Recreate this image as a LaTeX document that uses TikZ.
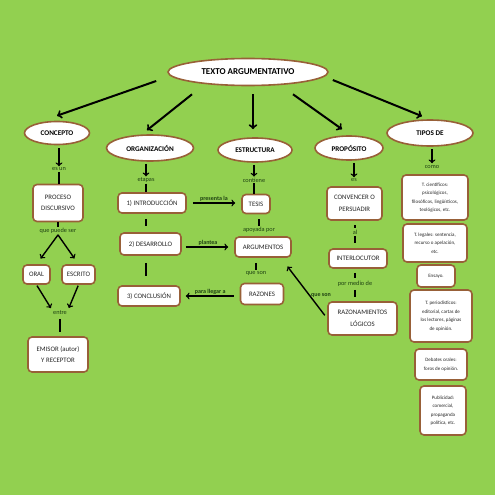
\documentclass[tikz,border=0pt]{standalone}
\usepackage{fontspec}
\setmainfont{Carlito}
\usetikzlibrary{shapes.geometric,calc}

\definecolor{fondo}{RGB}{146,208,80}
\definecolor{borde}{RGB}{152,96,56}
\definecolor{etiq}{RGB}{30,66,18}

\begin{document}
\begin{tikzpicture}[x=1pt, y=-1pt,
  elipse/.style={ellipse, draw=borde, line width=1.6pt, fill=white, inner sep=0pt,
    font=\bfseries\fontsize{7.2}{8}\selectfont},
  caja/.style 2 args={draw=borde, line width=1.6pt, fill=white, rounded corners=4pt,
    inner sep=0pt, align=center, minimum width=#1, minimum height=#2,
    text=black!85, font=\fontsize{6.8}{11.5}\selectfont},
  cajita/.style 2 args={caja={#1}{#2}, font=\fontsize{5}{8.5}\selectfont},
  etiqueta/.style={inner sep=1pt, text=etiq, font=\fontsize{6.3}{7}\selectfont},
  enlace/.style={inner sep=0.8pt, text=etiq, font=\bfseries\fontsize{6}{7}\selectfont},
  flecha/.style={->, line width=2pt},
  flechita/.style={->, line width=1.4pt},
  linea/.style={line width=1.3pt}]

  % fondo
  \useasboundingbox (0,0) rectangle (495,495);
  \fill[fondo] (0,0) rectangle (495,495);

  % titulo y apartados
  \node[elipse, minimum width=160, minimum height=27,
    font=\bfseries\fontsize{9}{10}\selectfont] (titulo) at (248,72) {TEXTO ARGUMENTATIVO};
  \node[elipse, minimum width=65, minimum height=23] (concepto) at (57,133) {CONCEPTO};
  \node[elipse, minimum width=87, minimum height=26] (organizacion) at (150,148) {ORGANIZACIÓN};
  \node[elipse, minimum width=74, minimum height=24] (estructura) at (255,150) {ESTRUCTURA};
  \node[elipse, minimum width=68, minimum height=24] (proposito) at (349,148) {PROPÓSITO};
  \node[elipse, minimum width=86, minimum height=26] (tipos) at (430,133) {TIPOS DE};

  \draw[flecha] ($(titulo.west)+(-11,9)$) -- ($(concepto.north)+(0,-5)$);
  \draw[flecha] ($(titulo.south)+(-56,8)$) -- ($(organizacion.north)+(-3,-4)$);
  \draw[flecha] ($(titulo.south)+(5,8)$) -- ($(estructura.north)+(-2,-8)$);
  \draw[flecha] ($(titulo.south)+(45,8)$) -- ($(proposito.north)+(-7,-6)$);
  \draw[flecha] ($(titulo.east)+(4,8)$) -- ($(tipos.north)+(-8,-3)$);

  % concepto
  \node[etiqueta] (esun) at (59,169) {es un};
  \node[caja={50}{37}] (proceso) at (58,203) {PROCESO\\DISCURSIVO};
  \node[etiqueta] (puede) at (58,231) {que puede ser};
  \node[caja={27}{19}] (oral) at (36.5,274.5) {ORAL};
  \node[caja={33}{19}] (escrito) at (78.5,274.5) {ESCRITO};
  \node[etiqueta] (entre) at (60,313) {entre};
  \node[caja={60}{35}] (emisor) at (58,354.5) {EMISOR (autor)\\Y RECEPTOR};

  \draw[flechita, shorten <=3pt] (esun.north |- concepto.south) -- (esun.north);
  \draw[linea] (esun) -- (esun |- proceso.north);
  \draw[linea] (proceso) -- (puede);
  \draw[flechita, shorten >=7pt] (puede.south) -- (oral.north);
  \draw[flechita, shorten >=7pt] (puede.south) -- (escrito.north);
  \draw[flechita, shorten <=1pt, shorten >=2pt] (oral.south) -- (entre.north west);
  \draw[flechita, shorten <=1pt, shorten >=2pt] (escrito.south) -- (entre.north east);
  \draw[linea, shorten <=3pt, shorten >=4pt] (entre) -- (entre |- emisor.north);

  % organizacion
  \node[etiqueta] (etapas) at (146,180) {etapas};
  \node[caja={68}{20}] (intro) at (152,203) {1) INTRODUCCIÓN};
  \node[caja={61}{22}] (desarrollo) at (150.5,244) {2) DESARROLLO};
  \node[caja={62}{20}] (conclusion) at (149,296) {3) CONCLUSIÓN};

  \draw[flechita, shorten <=2pt] (etapas.north |- organizacion.south) -- (etapas.north);
  \draw[linea] (etapas) -- (etapas |- intro.north);
  \draw[linea, shorten <=5pt, shorten >=6pt] (etapas |- intro.south) -- (etapas |- desarrollo.north);
  \draw[linea, shorten <=7pt, shorten >=9pt] (etapas |- desarrollo.south) -- (etapas |- conclusion.north);

  % estructura
  \node[etiqueta] (contiene) at (254,180) {contiene};
  \node[caja={28}{19}] (tesis) at (256,204) {TESIS};
  \node[etiqueta] (apoyada) at (259,230) {apoyada por};
  \node[caja={56}{20}] (argumentos) at (263,247) {ARGUMENTOS};
  \node[etiqueta] (queson) at (256,273) {que son};
  \node[caja={43}{21}] (razones) at (262,294) {RAZONES};

  \draw[flechita, shorten <=2pt] (contiene.north |- estructura.south) -- (contiene.north);
  \draw[linea] (contiene) -- (contiene |- tesis.north);
  \draw[linea, shorten <=5pt] (apoyada |- tesis.south) -- (apoyada.north);
  \draw[linea, shorten <=5pt] (queson |- argumentos.south) -- (queson.north);

  \draw[flechita, shorten <=6pt, shorten >=6pt] (intro.east) -- (intro.east -| tesis.west)
    node[enlace, midway, above] {presenta la};
  \draw[flechita, shorten <=4pt, shorten >=6pt] (desarrollo.east |- argumentos.west) -- (argumentos.west)
    node[enlace, midway, above] {plantea};
  \draw[flechita, shorten <=6pt, shorten >=5pt] (razones.west |- conclusion.east) -- (conclusion.east)
    node[enlace, midway, above] {para llegar a};

  % proposito
  \node[etiqueta] (es) at (354,180) {es};
  \node[caja={55}{33}] (convencer) at (354.5,203.5) {CONVENCER O\\PERSUADIR};
  \node[etiqueta] (al) at (355,232) {al};
  \node[caja={58}{19}] (interlocutor) at (358,258.5) {INTERLOCUTOR};
  \node[etiqueta] (pormedio) at (355,284) {por medio de};
  \node[caja={69}{33}] (razonamientos) at (362.5,318.5) {RAZONAMIENTOS\\LÓGICOS};

  \draw[flechita, shorten <=2pt] (es.north |- proposito.south) -- (es.north);
  \draw[linea, shorten <=4pt, shorten >=1pt] (al |- convencer.south) -- (al.north);
  \draw[linea, shorten <=1pt, shorten >=5pt] (al.south) -- (al |- interlocutor.north);
  \draw[linea, shorten <=4pt, shorten >=2pt] (pormedio |- interlocutor.south) -- (pormedio.north);
  \draw[linea, shorten <=2pt, shorten >=4pt] (pormedio.south) -- (pormedio |- razonamientos.north);

  \draw[flechita, shorten <=4pt, shorten >=11pt] (razonamientos.west) -- ($(argumentos.south east)+(-11,0)$)
    node[enlace, pos=0.38, right] {que son};

  % tipos de
  \node[etiqueta] (como) at (432,167) {como};
  \draw[flechita, shorten <=2pt, shorten >=1pt] (como.north |- tipos.south) -- (como.north);

  \node[cajita={66}{45}] (cientificos) at (435,197.5)
    {T. científicos:\\psicológicos,\\filosóficos, lingüísticos,\\teológicos, etc.};
  \node[cajita={64}{38}] (legales) at (435,243)
    {T. legales: sentencia,\\recurso o apelación,\\etc.};
  \node[cajita={38}{22}] (ensayo) at (436,276) {Ensayo.};
  \node[cajita={62}{52}] (periodisticos) at (441,316)
    {T. periodísticos:\\editorial, cartas de\\los lectores, páginas\\de opinión.};
  \node[cajita={52}{31}] (debates) at (441,364.5) {Debates orales:\\foros de opinión.};
  \node[cajita={46}{49}] (publicidad) at (443,410.5)
    {Publicidad:\\comercial,\\propaganda\\política, etc.};
\end{tikzpicture}
\end{document}
